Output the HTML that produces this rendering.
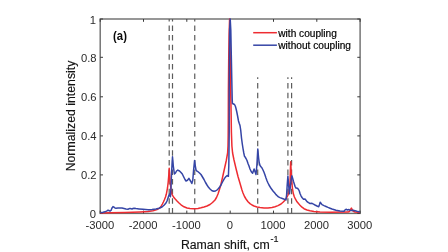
<!DOCTYPE html>
<html><head><meta charset="utf-8"><title>Raman spectrum</title>
<style>html,body{margin:0;padding:0;background:#fff;overflow:hidden}</style></head>
<body>
<svg width="448" height="252" viewBox="0 0 448 252" style="display:block">
<rect width="448" height="252" fill="#fff"/>
<rect x="100.2" y="19.0" width="259.9" height="194.4" fill="none" stroke="#6c6c6c" stroke-width="1.4"/>
<path d="M100.2 213.4v-2.8M100.2 19.0v2.8M143.5 213.4v-2.8M143.5 19.0v2.8M186.8 213.4v-2.8M186.8 19.0v2.8M230.2 213.4v-2.8M230.2 19.0v2.8M273.5 213.4v-2.8M273.5 19.0v2.8M316.8 213.4v-2.8M316.8 19.0v2.8M360.1 213.4v-2.8M360.1 19.0v2.8M100.2 213.4h2.8M360.1 213.4h-2.8M100.2 174.9h2.8M360.1 174.9h-2.8M100.2 135.9h2.8M360.1 135.9h-2.8M100.2 96.8h2.8M360.1 96.8h-2.8M100.2 57.3h2.8M360.1 57.3h-2.8M100.2 19.0h2.8M360.1 19.0h-2.8" stroke="#3a3a3a" stroke-width="1" fill="none"/>
<line x1="169.2" y1="213.4" x2="169.2" y2="19.0" stroke="#5c5c5c" stroke-width="1.2" stroke-dasharray="5.5 4.1"/>
<line x1="172.5" y1="213.4" x2="172.5" y2="19.0" stroke="#5c5c5c" stroke-width="1.2" stroke-dasharray="5.5 4.1"/>
<line x1="194.75" y1="213.4" x2="194.75" y2="19.0" stroke="#5c5c5c" stroke-width="1.2" stroke-dasharray="5.5 4.1"/>
<line x1="257.7" y1="213.4" x2="257.7" y2="77.3" stroke="#5c5c5c" stroke-width="1.2" stroke-dasharray="5.5 4.1"/>
<line x1="287.9" y1="213.4" x2="287.9" y2="77.3" stroke="#5c5c5c" stroke-width="1.2" stroke-dasharray="5.5 4.1"/>
<line x1="291.6" y1="213.4" x2="291.6" y2="77.3" stroke="#5c5c5c" stroke-width="1.2" stroke-dasharray="5.5 4.1"/>
<polyline points="100.5,213.0 110.0,212.8 125.0,212.5 140.0,212.0 148.0,211.6 153.0,210.8 157.0,209.6 159.5,208.2 161.2,206.2 162.4,204.0 163.4,202.0 164.3,200.0 165.5,197.0 166.3,194.3 167.5,188.0 168.2,182.0 168.8,175.0 169.2,168.2 169.7,175.0 170.3,184.0 171.2,190.5 172.0,194.3 173.5,197.0 175.0,198.8 177.0,201.0 179.0,203.0 181.0,204.8 184.0,206.8 187.0,208.0 190.0,208.6 194.0,208.8 198.0,208.4 201.0,207.8 204.0,207.0 207.0,206.0 210.0,204.5 212.5,202.5 215.0,200.0 216.5,197.5 218.0,194.0 219.3,190.0 220.8,185.0 222.4,178.0 224.4,169.0 226.3,160.5 227.6,153.0 228.0,146.0 228.2,135.0 228.3,120.0 228.4,92.0 228.7,60.0 229.1,35.0 229.6,19.0 230.0,40.0 230.4,70.0 230.7,92.0 231.1,112.0 231.4,132.0 231.9,146.0 232.6,153.0 234.0,160.0 236.0,168.5 238.0,176.5 240.5,185.0 241.8,189.5 243.0,193.0 244.5,196.5 246.0,199.0 248.0,201.7 250.0,203.6 252.0,205.0 254.0,206.0 257.0,207.0 260.0,207.5 264.0,207.9 268.0,207.9 272.0,207.4 275.0,206.7 278.0,205.6 281.0,204.0 283.0,202.3 285.0,200.2 286.5,198.0 287.8,195.5 288.8,192.5 289.6,188.0 290.1,180.0 290.4,170.0 290.7,161.7 291.1,170.0 291.6,180.0 292.4,188.0 293.3,193.5 294.3,196.7 295.5,199.2 297.0,201.8 298.5,203.6 300.0,205.2 302.0,207.2 304.0,208.7 307.0,210.0 310.0,210.8 314.0,211.5 320.0,212.0 330.0,212.3 348.0,212.1 349.3,211.5 350.3,210.0 351.4,208.1 352.4,210.0 353.3,211.3 355.0,212.0 360.0,212.6" fill="none" stroke="#ee2c31" stroke-width="1.5" stroke-linejoin="round"/>
<polyline points="100.5,212.7 103.0,212.3 105.0,211.8 107.0,210.8 108.0,210.2 109.0,210.5 110.0,211.2 111.0,210.5 112.0,208.0 113.0,206.6 114.0,207.2 115.0,208.0 116.0,208.3 118.0,208.0 120.0,207.9 122.0,208.1 124.0,208.5 126.0,208.9 128.0,209.2 129.0,208.8 130.0,208.3 131.0,208.8 132.0,209.0 133.0,208.5 134.0,208.3 136.0,208.6 139.0,208.9 143.0,209.3 148.0,209.7 152.0,209.5 156.0,209.0 159.0,208.2 162.0,207.0 164.0,205.3 166.0,203.0 167.0,201.0 168.0,198.0 169.0,195.0 169.5,194.0 170.4,196.8 171.0,188.0 171.6,172.0 172.5,156.8 173.3,166.0 174.4,174.0 175.5,173.0 176.5,171.0 177.8,170.1 179.5,171.0 181.0,172.5 182.3,174.0 183.5,176.5 185.0,179.5 186.0,181.0 187.5,180.3 188.9,178.4 190.5,181.0 191.8,183.5 192.8,180.0 193.6,170.0 194.6,160.4 195.3,166.0 196.0,170.0 197.0,171.2 198.0,171.7 199.5,173.0 201.0,174.5 202.5,177.0 204.0,179.5 205.5,182.5 207.0,185.0 208.5,187.3 210.0,189.0 212.0,190.7 213.8,191.3 215.5,191.0 217.0,190.0 218.5,188.5 219.7,187.0 221.0,185.0 222.5,182.0 224.5,178.4 226.0,176.5 227.1,175.6 228.4,176.3 228.8,166.0 229.0,150.0 229.2,132.0 229.2,92.0 229.4,60.0 229.6,30.0 230.2,18.9 230.8,30.0 231.4,60.0 231.9,85.0 232.2,99.0 232.4,103.3 233.0,103.8 234.5,104.5 235.3,106.0 236.0,108.5 236.8,112.0 237.5,115.5 238.5,121.0 239.3,123.5 240.0,125.5 240.7,130.0 241.5,138.0 242.3,144.0 243.0,148.5 243.8,153.0 244.5,156.3 245.3,157.3 246.0,158.5 247.0,160.5 248.0,163.5 249.0,166.0 250.0,169.0 251.3,171.8 252.6,173.3 253.4,171.0 254.1,169.0 255.0,171.5 256.0,174.5 256.9,165.0 257.8,149.0 258.6,158.0 259.2,162.5 260.0,165.5 261.0,166.8 262.0,168.0 263.0,170.0 264.0,172.3 265.0,175.0 266.0,178.0 267.0,180.7 268.0,183.0 269.0,185.0 271.0,188.3 273.0,191.0 275.0,193.3 276.0,194.6 277.3,195.8 278.5,196.8 280.0,197.6 283.0,198.8 285.9,199.9 286.6,195.0 287.2,185.0 287.9,176.0 288.6,185.0 289.5,193.8 290.4,186.0 291.1,180.0 291.9,175.8 292.7,178.5 293.5,181.5 294.3,184.0 295.0,186.3 296.0,188.0 297.5,188.3 298.5,189.5 299.3,191.0 300.0,193.5 301.0,195.8 302.0,197.5 303.5,199.2 305.0,199.1 306.0,200.3 307.0,201.6 308.5,202.7 310.0,203.5 312.0,203.3 313.5,204.2 315.0,205.0 317.0,206.0 318.7,206.7 319.5,204.5 320.2,202.3 321.0,203.3 322.0,204.6 324.0,205.6 326.0,206.5 328.0,207.4 330.0,208.2 332.0,209.0 336.0,210.3 340.0,211.0 344.0,211.3 345.0,210.0 346.0,209.3 347.5,210.0 349.0,209.5 350.5,210.5 353.0,210.3 356.0,211.0 358.0,211.6 360.0,212.0" fill="none" stroke="#3545a6" stroke-width="1.5" stroke-linejoin="round"/>
<g font-family="Liberation Sans, Arial, sans-serif" font-size="11.25" fill="#2b2b2b">
<text transform="translate(99.8,228.9) scale(1,1.05)" text-anchor="middle">-3000</text>
<text transform="translate(143.1,228.9) scale(1,1.05)" text-anchor="middle">-2000</text>
<text transform="translate(186.4,228.9) scale(1,1.05)" text-anchor="middle">-1000</text>
<text transform="translate(229.8,228.9) scale(1,1.05)" text-anchor="middle">0</text>
<text transform="translate(273.1,228.9) scale(1,1.05)" text-anchor="middle">1000</text>
<text transform="translate(316.4,228.9) scale(1,1.05)" text-anchor="middle">2000</text>
<text transform="translate(359.7,228.9) scale(1,1.05)" text-anchor="middle">3000</text>
<text transform="translate(96.1,218.0) scale(1,1.05)" text-anchor="end">0</text>
<text transform="translate(96.6,179.1) scale(1,1.05)" text-anchor="end">0.2</text>
<text transform="translate(96.6,140.2) scale(1,1.05)" text-anchor="end">0.4</text>
<text transform="translate(96.6,101.3) scale(1,1.05)" text-anchor="end">0.6</text>
<text transform="translate(96.6,62.4) scale(1,1.05)" text-anchor="end">0.8</text>
<text transform="translate(96.1,23.5) scale(1,1.05)" text-anchor="end">1</text>
</g>
<g font-family="Liberation Sans, Arial, sans-serif" font-size="12.3" fill="#141414" stroke="#141414" stroke-width="0.15">
<text x="180.9" y="248.8">Raman shift, cm<tspan font-size="9" dy="-6.4" dx="0.7">-1</tspan></text>
<text transform="translate(75.2,116) rotate(-90)" text-anchor="middle">Normalized intensity</text>
</g>
<text transform="translate(113.1,40) scale(0.925,1)" font-family="Liberation Sans, Arial, sans-serif" font-weight="bold" font-size="12.2" fill="#0a0a0a">(a)</text>
<line x1="253.2" y1="32.7" x2="276.9" y2="32.7" stroke="#ee2c31" stroke-width="1.5"/>
<line x1="253.2" y1="45.2" x2="276.9" y2="45.2" stroke="#3545a6" stroke-width="1.5"/>
<g font-family="Liberation Sans, Arial, sans-serif" font-size="10.15" fill="#000" stroke="#000" stroke-width="0.2">
<text x="278.3" y="36.5">with coupling</text>
<text x="278.3" y="49.2">without coupling</text>
</g>
</svg>
</body></html>
